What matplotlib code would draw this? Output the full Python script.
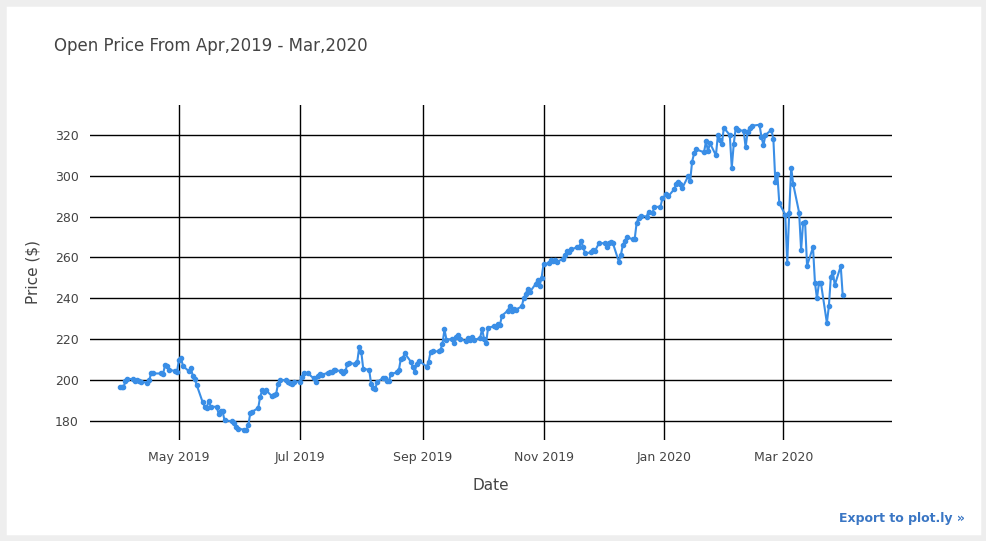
import pandas as pd
import matplotlib.pyplot as plt
import matplotlib.dates as mdates

holidays = ["2019-04-19", "2019-05-27", "2019-07-04", "2019-09-02", "2019-11-28",
            "2019-12-25", "2020-01-01", "2020-01-20", "2020-02-17"]

months = ["2019-04", "2019-05", "2019-06", "2019-07", "2019-08", "2019-09",
          "2019-10", "2019-11", "2019-12", "2020-01", "2020-02", "2020-03"]

open_apr = [196.4, 196.5, 196.4, 199.5, 200.7, 200.3, 199.5, 199.9, 199.6, 199.2, 198.6,
            199.8, 203.6, 203.2, 203.2, 203.1, 207.4, 206.8, 205.0, 204.4, 204.1]
open_may = [209.9, 210.9, 206.9, 204.3, 205.9, 201.9, 200.4, 197.4, 189.0, 187.0, 186.3,
            189.9, 186.9, 186.9, 183.5, 184.7, 184.7, 180.2, 179.8, 178.9, 177.0, 176.2]
open_jun = [175.6, 175.4, 178.0, 183.8, 184.5, 186.3, 191.9, 194.9, 194.0, 194.9,
            192.0, 192.7, 193.0, 198.2, 200.0, 200.0, 199.0, 198.6, 197.9, 199.2]
open_jul = [199.2, 201.4, 203.3, 203.3, 200.8, 199.2, 201.9, 203.0, 202.5, 203.5, 204.0,
            204.0, 205.0, 204.8, 204.3, 203.5, 204.2, 208.0, 208.5, 207.7, 209.0, 216.4]
open_aug = [213.9, 205.5, 205.0, 197.9, 196.3, 195.4, 199.0, 201.0, 201.0, 199.6, 199.7,
            203.0, 203.7, 205.0, 210.5, 211.0, 213.0, 209.0, 206.4, 204.0, 208.0, 209.5]
open_sep = [206.6, 209.0, 213.9, 214.1, 214.0, 214.9, 217.8, 224.8, 219.8, 220.0,
            218.0, 221.1, 222.0, 220.0, 219.0, 220.7, 219.8, 221.0, 219.5, 220.7]
open_oct = [225.0, 220.0, 218.0, 225.6, 226.3, 226.0, 227.3, 227.0, 231.5, 234.0, 236.4, 234.0,
            235.0, 234.5, 236.0, 240.0, 242.0, 244.8, 243.0, 247.0, 249.0, 246.0, 250.0]
open_nov = [256.7, 257.3, 258.7, 258.4, 258.7, 258.0, 259.4, 261.0, 263.0, 262.6,
            264.0, 265.0, 265.2, 268.0, 265.0, 262.0, 262.5, 263.5, 263.3, 267.0]
open_dec = [267.0, 265.0, 267.0, 267.5, 267.0, 258.0, 261.0, 266.0, 268.0, 270.0, 268.9,
            269.0, 277.0, 279.5, 280.5, 280.0, 282.5, 282.0, 284.8, 284.8, 289.0]
open_jan = [291.0, 290.0, 293.5, 296.0, 297.0, 296.0, 294.0, 299.8, 297.5, 307.0, 311.0,
            313.0, 311.5, 317.0, 312.0, 316.0, 310.0, 320.0, 317.5, 315.5, 323.5]
open_feb = [320.0, 304.0, 315.5, 323.5, 322.5, 322.0, 314.0, 321.5, 323.5, 324.5,
            325.0, 319.0, 315.0, 320.0, 322.5, 318.0, 297.0, 300.9, 286.5]
open_mar = [281.0, 257.3, 282.0, 304.0, 296.0, 282.0, 263.7, 277.0, 277.5, 256.0, 265.0,
            247.5, 240.0, 247.4, 247.5, 228.0, 236.0, 250.5, 252.8, 246.5, 255.8, 241.5]

monthly = [open_apr, open_may, open_jun, open_jul, open_aug, open_sep,
           open_oct, open_nov, open_dec, open_jan, open_feb, open_mar]

dates, prices = [], []
hol = pd.to_datetime(holidays)
for m, vals in zip(months, monthly):
    start = pd.Timestamp(m + "-01")
    days = pd.bdate_range(start, start + pd.offsets.MonthEnd(0))
    days = [d for d in days if d not in hol]
    for d, v in zip(days, vals):
        dates.append(d)
        prices.append(v)

fig = plt.figure(figsize=(9.87, 5.41), dpi=100, facecolor="white")
# grey frame around the white panel
fig.patches.append(plt.Rectangle((0, 0), 1, 1, transform=fig.transFigure,
                                 facecolor="none", edgecolor="#eeeeee", lw=9, zorder=5))
ax = fig.add_axes([0.091, 0.187, 0.813, 0.619])
ax.plot(dates, prices, color="#3a8ee6", lw=1.5, marker="o", ms=3)

ax.set_xlim(pd.Timestamp("2019-03-17"), pd.Timestamp("2020-04-25"))
ax.set_ylim(170.7, 334.7)
ax.set_yticks(range(180, 321, 20))
ax.xaxis.set_major_locator(mdates.MonthLocator(bymonth=[1, 3, 5, 7, 9, 11]))
ax.xaxis.set_major_formatter(mdates.DateFormatter("%b %Y"))
ax.grid(True, color="black", lw=1)
ax.set_axisbelow(True)
for s in ax.spines.values():
    s.set_visible(False)
ax.tick_params(length=0, colors="#444444", labelsize=9, pad=8)
ax.set_xlabel("Date", color="#444444", fontsize=11, labelpad=10)
ax.set_ylabel("Price ($)", color="#444444", fontsize=11, labelpad=10)

fig.text(0.055, 0.905, "Open Price From Apr,2019 - Mar,2020", fontsize=12, color="#444444")
fig.text(0.978, 0.035, "Export to plot.ly \u00bb", fontsize=9, color="#3a76c4",
         fontweight="bold", ha="right")

fig.savefig("out.png")
